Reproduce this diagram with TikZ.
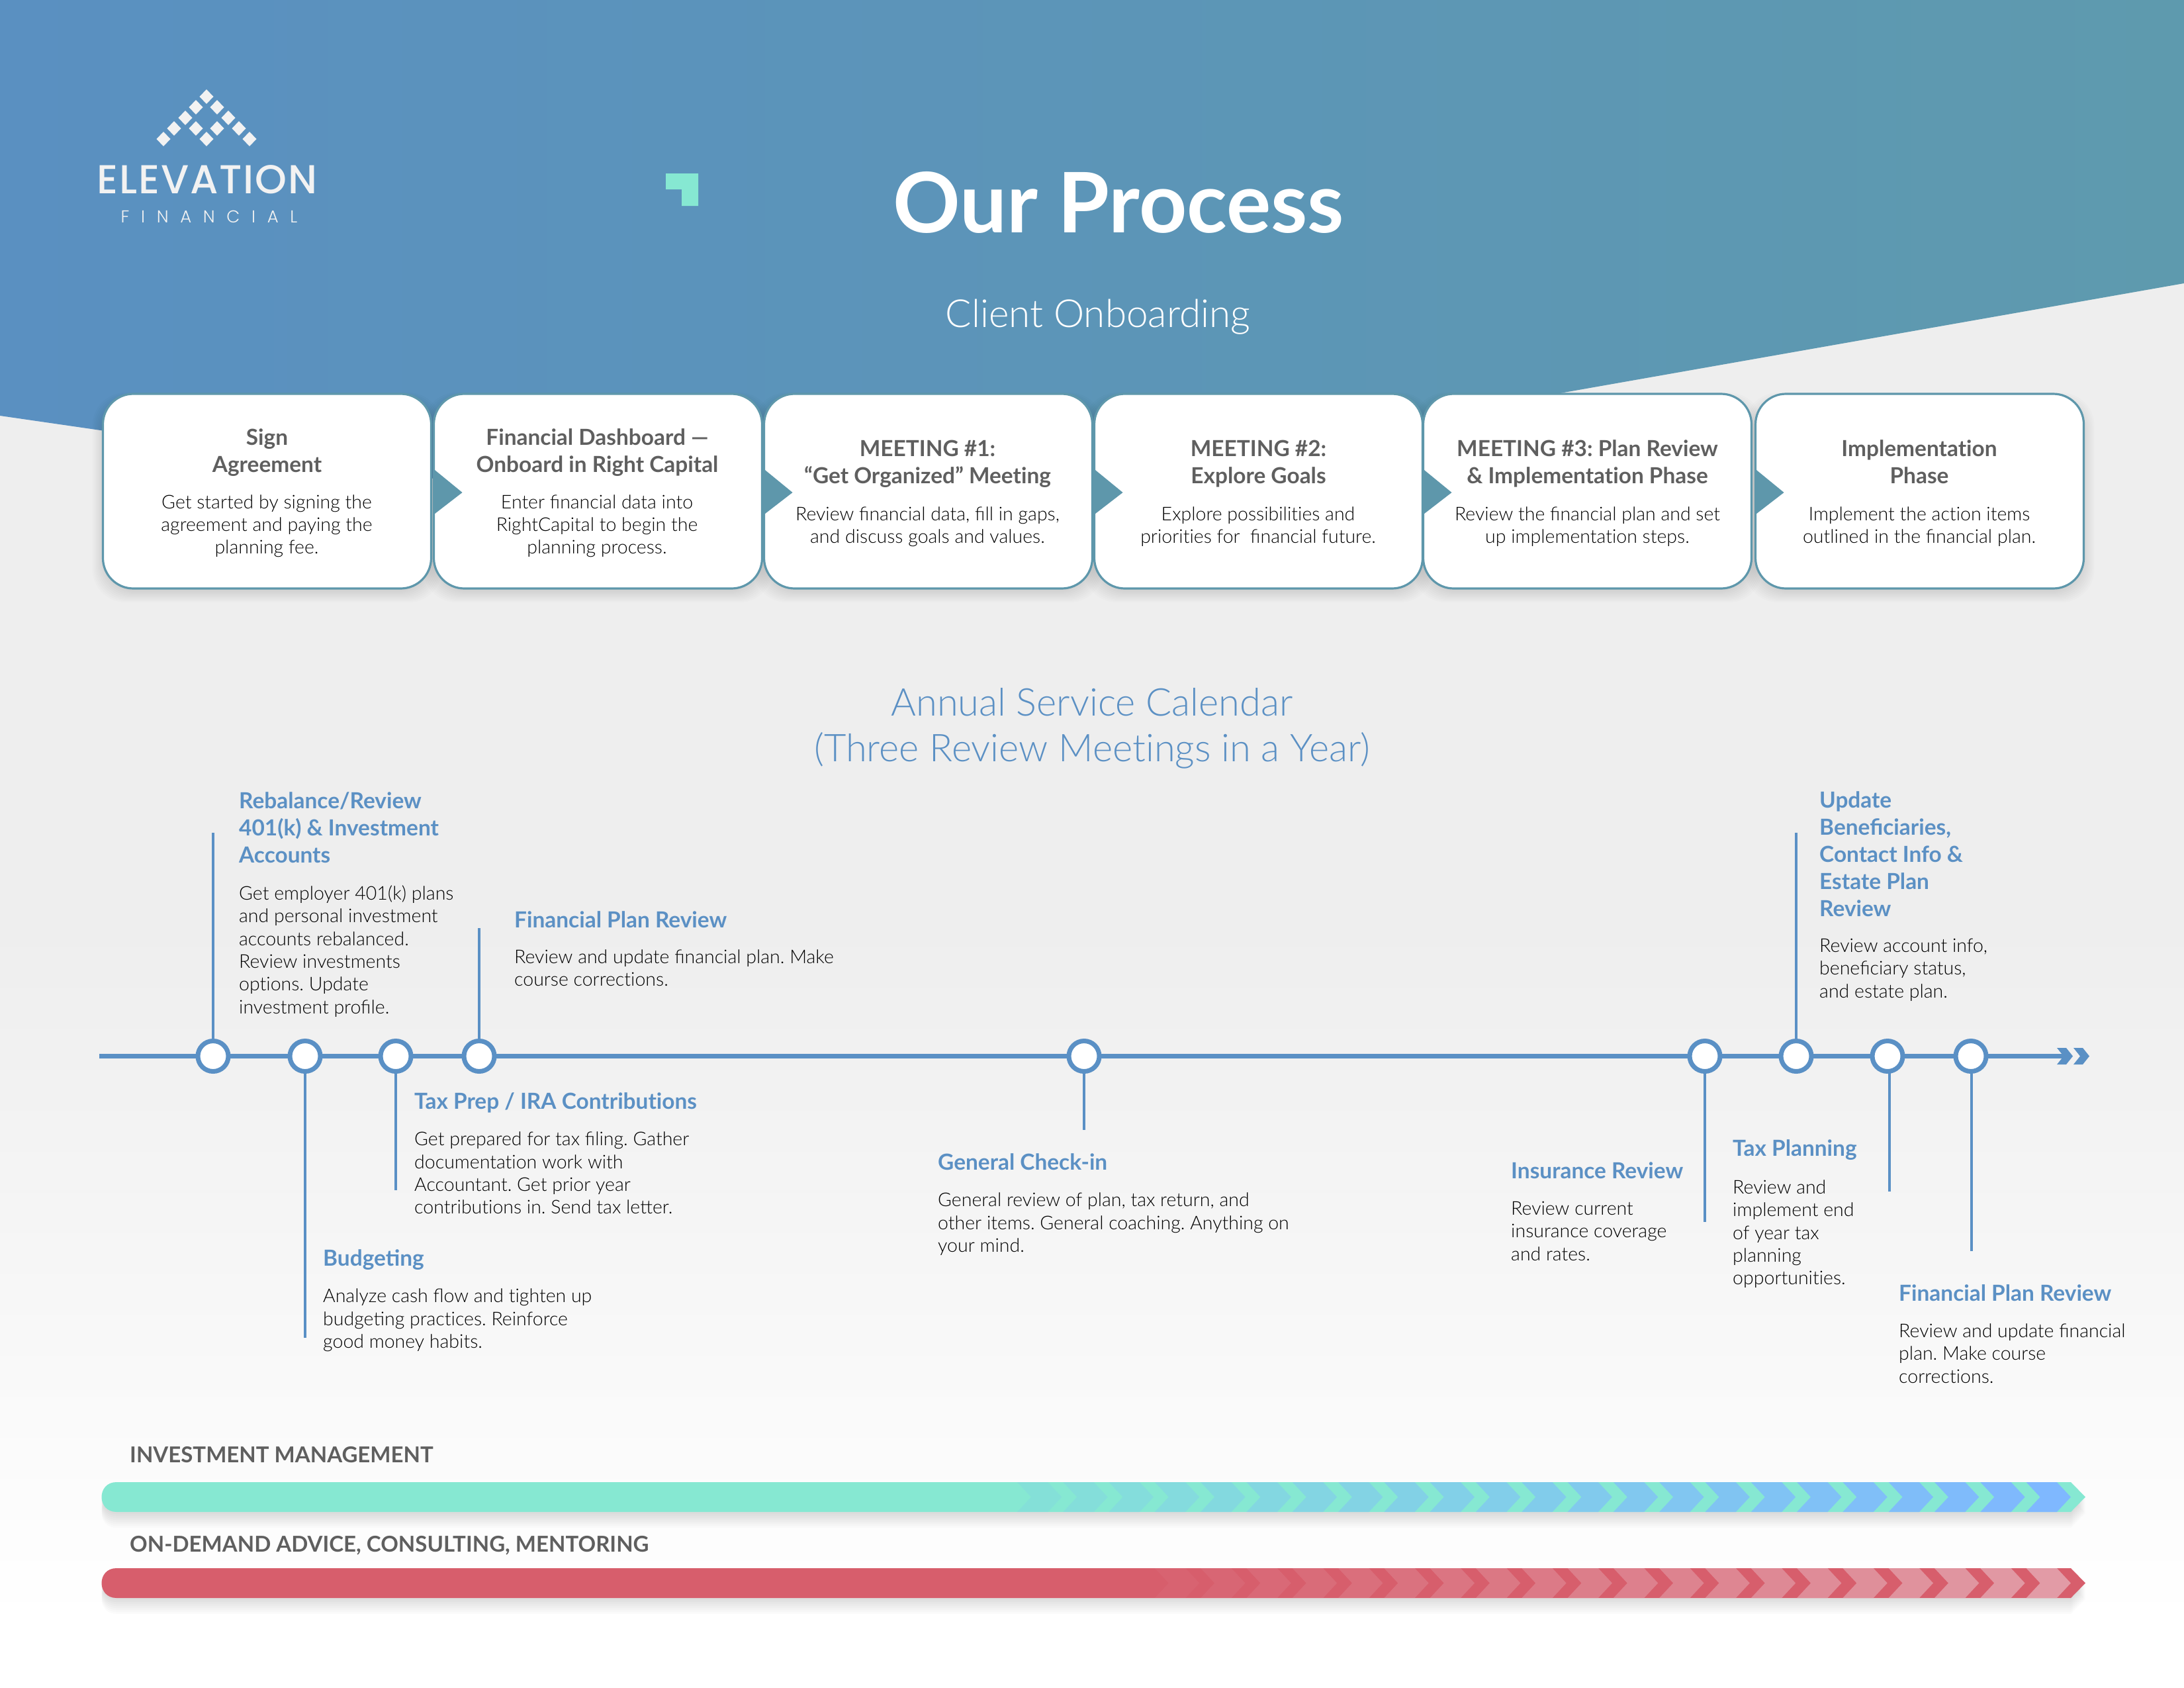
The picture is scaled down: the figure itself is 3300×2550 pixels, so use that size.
\documentclass[tikz,border=0pt]{standalone}
\usepackage{fontspec}
\setmainfont{Lato}
\newfontfamily\latolight[UprightFont={* Light},BoldFont={* Bold}]{Lato}
\newfontfamily\logofont[UprightFont={* Medium},LetterSpace=3]{Poppins}
\newfontfamily\logolight[UprightFont={* Light},LetterSpace=68]{Poppins}
\usetikzlibrary{calc}
\definecolor{hdA}{HTML}{5A90C1}
\definecolor{hdB}{HTML}{5E9AAE}
\definecolor{teal}{HTML}{5E97AB}
\definecolor{blueT}{HTML}{5B90C4}
\definecolor{lineB}{HTML}{5A90C5}
\definecolor{mint}{HTML}{86E8D2}
\definecolor{barblue}{HTML}{7FB8FF}
\definecolor{rosebase}{HTML}{D75E6C}
\definecolor{rosetop}{HTML}{E29BA6}
\definecolor{greyT}{HTML}{5F5F5F}
\definecolor{bodyT}{HTML}{000000}
\definecolor{bgA}{HTML}{EEEEEE}
\newcommand{\barpath}[1]{(176,#1) -- (3129,#1) -- (3151,#1+22.5) -- (3129,#1+45) -- (176,#1+45) .. controls (146,#1+45) and (146,#1) .. (176,#1) -- cycle}
\newcommand{\ti}{t\kern0pt i}
\tikzset{
  x=1pt,y=-1pt,
  cardbox/.style={draw=teal,line width=3.2pt,fill=white,rounded corners=46pt,minimum width=496pt,minimum height=294pt,inner sep=0pt,outer sep=0pt},
  cardshadow/.style={fill=black,fill opacity=0.010,rounded corners=50pt},
  cardtitle/.style={anchor=north,inner sep=0pt,align=center,text=greyT,font=\fontsize{33.4}{41}\selectfont\bfseries},
  carddesc/.style={anchor=north,inner sep=0pt,align=center,text=bodyT,font=\latolight\fontsize{28.5}{34.2}\selectfont},
  evhead/.style={anchor=north west,inner sep=0pt,align=left,text=blueT,font=\fontsize{33.4}{41}\selectfont\bfseries},
  evdesc/.style={anchor=north west,inner sep=0pt,align=left,text=bodyT,font=\latolight\fontsize{28.5}{34.4}\selectfont},
  tipshape/.style={fill=teal},
  tline/.style={draw=lineB,line width=7pt},
  stem/.style={draw=lineB,line width=4pt},
  dot/.style={circle,draw=lineB,line width=7pt,fill=white,minimum size=46pt,inner sep=0pt,outer sep=0pt},
  diam/.style={fill=white!95!black},
  barlabel/.style={anchor=base west,inner sep=0pt,text=greyT,font=\fontsize{33}{40}\selectfont\bfseries},
}
\newcommand{\rl}{\rule{0pt}{30pt}}
\newcommand{\rh}{\rule{0pt}{34pt}}
\frenchspacing
\begin{document}
\begin{tikzpicture}
\useasboundingbox (0,0) rectangle (3300,2550);
% background
\fill[bgA] (0,0) rectangle (3300,1400);
\shade[top color=bgA,bottom color=white] (0,1399) rectangle (3300,2450);
\fill[white] (0,2449) rectangle (3300,2550);
% header
\shade[left color=hdA,right color=hdB] (0,0) -- (3300,0) -- (3300,428) -- (1187,800) -- (0,628) -- cycle;
% logo
\foreach \px/\py in {312/146,296/162,328/162,280/178,345/178,263/194,296/194,328/194,361/194,247/210,312/210,377/210}
  \fill[diam] (\px,\py-11) -- (\px+10.5,\py) -- (\px,\py+11) -- (\px-10.5,\py) -- cycle;
\node[anchor=base,inner sep=0pt,text=white!95!black,font=\logofont\fontsize{61}{61}\selectfont] (logoA) at (313,292) {ELEVATION};
\node[anchor=base,inner sep=0pt,text=white!95!black,font=\logolight\fontsize{26}{26}\selectfont] (logoB) at (316,336) {FINANCIAL};
\fill[mint] (1006,262) -- (1055,262) -- (1055,311) -- (1030,311) -- (1030,286) -- (1006,286) -- cycle;
% titles
\node[anchor=base,inner sep=0pt,text=white,font=\fontsize{126}{126}\selectfont\bfseries] (title) at (1690,351) {Our Process};
\node[anchor=base,inner sep=0pt,text=white,font=\latolight\fontsize{58.4}{60}\selectfont] (sub) at (1659,494) {Client Onboarding};
\node[anchor=north,inner sep=0pt,align=center,text=blueT,font=\latolight\fontsize{57.8}{69}\selectfont] (annual) at (1650,1021) {\rule{0pt}{60pt}Annual Service Calendar\\(Three Review Mee\ti ngs in a Year)};
% card shadows
\foreach \cx in {403.5,903.5,1402.5,1901.5,2398.5,2900.5}
  \foreach \e in {0,2,...,16}
    \fill[cardshadow] (\cx-248-\e,595+6-\e+8) rectangle (\cx+248+\e,888+6+\e);
% cards
\node[cardbox] (c1) at (403.5,742) {};
\node[cardbox] (c2) at (903.5,742) {};
\node[cardbox] (c3) at (1402.5,742) {};
\node[cardbox] (c4) at (1901.5,742) {};
\node[cardbox] (c5) at (2398.5,742) {};
\node[cardbox] (c6) at (2900.5,742) {};
\foreach \c in {c2,c3,c4,c5,c6}
  \fill[tipshape] ($(\c.west)+(-1,-34)$) -- ($(\c.west)+(43,2)$) -- ($(\c.west)+(-1,36)$) -- cycle;
% card texts
\node[cardtitle] (t1) at (403.5,638.5) {\rh Sign\\Agreement};
\node[carddesc] (d1) at (403,738) {\rl Get started by signing the\\agreement and paying the\\planning fee.};
\node[cardtitle] (t2) at (902.5,638.5) {\rh Financial Dashboard —\\Onboard in Right Capital};
\node[carddesc] (d2) at (902,738) {\rl Enter financial data into\\RightCapital to begin the\\planning process.};
\node[cardtitle] (t3) at (1401.5,655.5) {\rh MEETING \#1:\\“Get Organized” Mee\ti ng};
\node[carddesc] (d3) at (1401.5,756) {\rl Review financial data, fill in gaps,\\and discuss goals and values.};
\node[cardtitle] (t4) at (1901.5,655.5) {\rh MEETING \#2:\\Explore Goals};
\node[carddesc] (d4) at (1901,756) {\rl Explore possibili\ti es and\\priori\ti es for~ financial future.};
\node[cardtitle] (t5) at (2398.5,655.5) {\rh MEETING \#3: Plan Review\\\& Implementa\ti on Phase};
\node[carddesc] (d5) at (2398.5,756) {\rl Review the financial plan and set\\up implementa\ti on steps.};
\node[cardtitle] (t6) at (2900,655.5) {\rh Implementa\ti on\\Phase};
\node[carddesc] (d6) at (2900,756) {\rl Implement the ac\ti on items\\outlined in the financial plan.};
% timeline
\coordinate (tlA) at (150,1595.5);
\coordinate (tlB) at (3120,1595.5);
\draw[tline] (tlA) -- (tlB);
\foreach \a in {3108,3133}
  \fill[lineB] (\a,1583) -- (\a+14,1583) -- (\a+24,1595.5) -- (\a+14,1608) -- (\a,1608) -- (\a+10,1595.5) -- cycle;
\coordinate (s1) at (322,1258);
\coordinate (s2) at (461,2021);
\coordinate (s3) at (598,1798);
\coordinate (s4) at (724,1402);
\coordinate (s5) at (1638,1707);
\coordinate (s6) at (2576,1846);
\coordinate (s7) at (2714,1258);
\coordinate (s8) at (2855,1800);
\coordinate (s9) at (2979,1890);
\node[dot] (n1) at (322,1595.5) {};
\node[dot] (n2) at (461,1595.5) {};
\node[dot] (n3) at (598,1595.5) {};
\node[dot] (n4) at (724,1595.5) {};
\node[dot] (n5) at (1638,1595.5) {};
\node[dot] (n6) at (2576,1595.5) {};
\node[dot] (n7) at (2714,1595.5) {};
\node[dot] (n8) at (2852,1595.5) {};
\node[dot] (n9) at (2978,1595.5) {};
\draw[stem] (n1.north) -- (s1);
\draw[stem] (n2.south) -- (s2);
\draw[stem] (n3.south) -- (s3);
\draw[stem] (n4.north) -- (s4);
\draw[stem] (n5.south) -- (s5);
\draw[stem] (n6.south) -- (s6);
\draw[stem] (n7.north) -- (s7);
\draw[stem] (n8.south -| s8) -- (s8);
\draw[stem] (n9.south -| s9) -- (s9);
% event texts
\node[evhead] (h1) at (361,1187.5) {\rh Rebalance/Review\\401(k) \& Investment\\Accounts};
\node[evdesc] (e1) at (361,1329) {\rl Get employer 401(k) plans\\and personal investment\\accounts rebalanced.\\Review investments\\op\ti ons. Update\\investment profile.};
\node[evhead] (h2) at (777,1367) {\rh Financial Plan Review};
\node[evdesc] (e2) at (777,1425) {\rl Review and update financial plan. Make\\course correc\ti ons.};
\node[evhead] (h3) at (626,1641.5) {\rh Tax Prep / IRA Contribu\ti ons};
\node[evdesc] (e3) at (626,1700.5) {\rl Get prepared for tax filing. Gather\\documenta\ti on work with\\Accountant. Get prior year\\contribu\ti ons in. Send tax letter.};
\node[evhead] (h4) at (488,1878.5) {\rh Budgeting};
\node[evdesc] (e4) at (488,1937.5) {\rl Analyze cash flow and \ti ghten up\\budgeting prac\ti ces. Reinforce\\good money habits.};
\node[evhead] (h5) at (1417,1733.5) {\rh General Check-in};
\node[evdesc] (e5) at (1417,1792.5) {\rl General review of plan, tax return, and\\other items. General coaching. Anything on\\your mind.};
\node[evhead] (h6) at (2283,1746.5) {\rh Insurance Review};
\node[evdesc] (e6) at (2283,1805) {\rl Review current\\insurance coverage\\and rates.};
\node[evhead] (h7) at (2618,1712.5) {\rh Tax Planning};
\node[evdesc] (e7) at (2618,1773) {\rl Review and\\implement end\\of year tax\\planning\\opportuni\ti es.};
\node[evhead] (h8) at (2749,1186.5) {\rh Update\\Beneficiaries,\\Contact Info \&\\Estate Plan\\Review};
\node[evdesc] (e8) at (2749,1408) {\rl Review account info,\\beneficiary status,\\and estate plan.};
\node[evhead] (h9) at (2869,1931.5) {\rh Financial Plan Review};
\node[evdesc] (e9) at (2869,1990) {\rl Review and update financial\\plan. Make course\\correc\ti ons.};
% bars
\node[barlabel] (lb1) at (196,2209) {INVESTMENT MANAGEMENT};
\node[barlabel] (lb2) at (196,2344) {ON-DEMAND ADVICE, CONSULTING, MENTORING};
\foreach \i in {1,...,8} {
  \fill[black,fill opacity=0.014,shift={(0,\i*3+1)}] \barpath{2238};
  \fill[black,fill opacity=0.014,shift={(0,\i*3+1)}] \barpath{2368};
}
\begin{scope}[shift={(0,1)}]
\fill[mint] \barpath{2238};
\fill[rosebase] \barpath{2368};
\foreach \k in {0,...,22} {
  \pgfmathsetmacro\a{1514+69.3*\k}
  \pgfmathsetmacro\op{0.15+0.85*\k/22}
  \fill[barblue,fill opacity=\op] (\a+23,2238) -- (\a+69.3,2238) -- (\a+90.3,2260.5) -- (\a+69.3,2283) -- (\a+23,2283) -- (\a+44,2260.5) -- cycle;
}
\foreach \k in {3,...,22} {
  \pgfmathsetmacro\a{1514+69.3*\k}
  \pgfmathsetmacro\op{(\k-1)/21}
  \fill[rosetop,fill opacity=\op] (\a+23,2368) -- (\a+69.3,2368) -- (\a+90.3,2390.5) -- (\a+69.3,2413) -- (\a+23,2413) -- (\a+44,2390.5) -- cycle;
}
\end{scope}
\end{tikzpicture}
\end{document}
